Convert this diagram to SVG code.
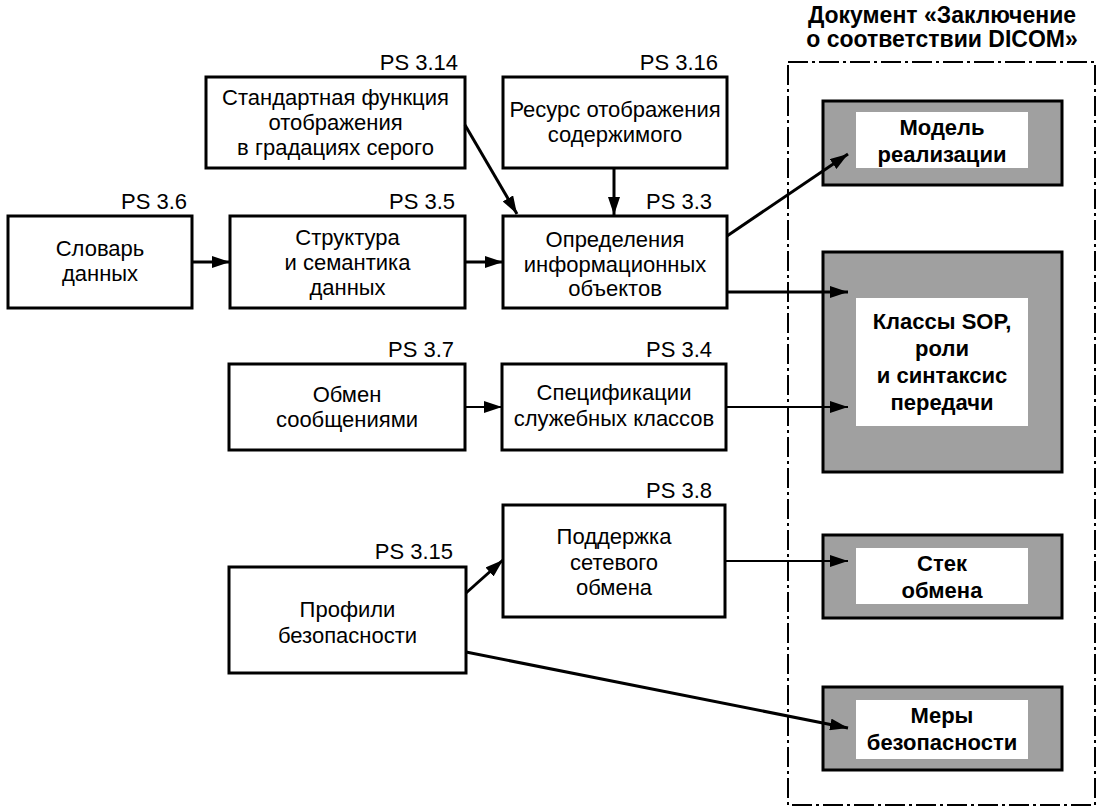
<svg xmlns="http://www.w3.org/2000/svg" width="1102" height="811" viewBox="0 0 1102 811">
<style>
.box{fill:#fff;stroke:#000;stroke-width:3}
.grey{fill:#a0a0a0;stroke:#000;stroke-width:3}
.inner{fill:#fff;stroke:none}
.t{font-family:"Liberation Sans",Arial,sans-serif;font-size:22px;fill:#000;text-anchor:middle}
.b{font-family:"Liberation Sans",Arial,sans-serif;font-size:22px;font-weight:bold;fill:#000;text-anchor:middle}
.h{font-family:"Liberation Sans",Arial,sans-serif;font-size:23px;font-weight:bold;fill:#000;text-anchor:middle}
.ps{font-family:"Liberation Sans",Arial,sans-serif;font-size:22px;fill:#000;text-anchor:end}
.c{fill:none;stroke:#000;stroke-width:3}
.c2{fill:none;stroke:#000;stroke-width:2}
.frame{fill:none;stroke:#000;stroke-width:2;stroke-dasharray:20 4 3 4}
</style>
<defs>
<marker id="ah" markerUnits="userSpaceOnUse" markerWidth="18" markerHeight="12" refX="18" refY="6" orient="auto">
<path d="M0,0 L18,6 L0,12 Z" fill="#000"/>
</marker>
</defs>
<rect width="1102" height="811" fill="#fff"/>

<g id="conformance">
<text class="h" x="942" y="23">Документ «Заключение</text>
<text class="h" x="942" y="47">о соответствии DICOM»</text>
<rect class="frame" x="788" y="62" width="307" height="743"/>
</g>

<g id="ps3_14">
<rect class="box" x="206" y="77" width="259" height="91"/>
<text class="ps" x="458" y="70">PS 3.14</text>
<text class="t" x="335.5" y="105">Стандартная функция</text>
<text class="t" x="335.5" y="130">отображения</text>
<text class="t" x="335.5" y="155">в градациях серого</text>
</g>

<g id="ps3_16">
<rect class="box" x="503" y="77" width="224" height="91"/>
<text class="ps" x="718" y="70">PS 3.16</text>
<text class="t" x="615" y="117">Ресурс отображения</text>
<text class="t" x="615" y="142">содержимого</text>
</g>

<g id="ps3_6">
<rect class="box" x="8" y="216" width="184" height="92"/>
<text class="ps" x="187" y="209">PS 3.6</text>
<text class="t" x="100" y="256">Словарь</text>
<text class="t" x="100" y="281">данных</text>
</g>

<g id="ps3_5">
<rect class="box" x="230" y="216" width="235" height="92"/>
<text class="ps" x="455" y="209">PS 3.5</text>
<text class="t" x="347.5" y="245">Структура</text>
<text class="t" x="347.5" y="270">и семантика</text>
<text class="t" x="347.5" y="295">данных</text>
</g>

<g id="ps3_3">
<rect class="box" x="503" y="216" width="224" height="92"/>
<text class="ps" x="712" y="209">PS 3.3</text>
<text class="t" x="615" y="247">Определения</text>
<text class="t" x="615" y="272">информационных</text>
<text class="t" x="615" y="296">объектов</text>
</g>

<g id="ps3_7">
<rect class="box" x="229" y="364" width="236" height="86"/>
<text class="ps" x="454" y="357">PS 3.7</text>
<text class="t" x="347" y="402">Обмен</text>
<text class="t" x="347" y="427">сообщениями</text>
</g>

<g id="ps3_4">
<rect class="box" x="502" y="364" width="224" height="86"/>
<text class="ps" x="712" y="357">PS 3.4</text>
<text class="t" x="614" y="400">Спецификации</text>
<text class="t" x="614" y="426">служебных классов</text>
</g>

<g id="ps3_8">
<rect class="box" x="503" y="505" width="222" height="112"/>
<text class="ps" x="712" y="498">PS 3.8</text>
<text class="t" x="614" y="544">Поддержка</text>
<text class="t" x="614" y="570">сетевого</text>
<text class="t" x="614" y="595">обмена</text>
</g>

<g id="ps3_15">
<rect class="box" x="229" y="567" width="237" height="106"/>
<text class="ps" x="453" y="559">PS 3.15</text>
<text class="t" x="347.5" y="617">Профили</text>
<text class="t" x="347.5" y="643">безопасности</text>
</g>

<g id="model">
<rect class="grey" x="823" y="101" width="239" height="84"/>
<rect class="inner" x="856" y="112" width="172" height="56"/>
<text class="b" x="942" y="135">Модель</text>
<text class="b" x="942" y="162">реализации</text>
</g>

<g id="sop">
<rect class="grey" x="823" y="252" width="239" height="220"/>
<rect class="inner" x="856" y="298" width="172" height="128"/>
<text class="b" x="942" y="329">Классы SOP,</text>
<text class="b" x="942" y="356">роли</text>
<text class="b" x="942" y="383">и синтаксис</text>
<text class="b" x="942" y="410">передачи</text>
</g>

<g id="stack">
<rect class="grey" x="823" y="535" width="239" height="83"/>
<rect class="inner" x="856" y="548" width="172" height="56"/>
<text class="b" x="942" y="571">Стек</text>
<text class="b" x="942" y="598">обмена</text>
</g>

<g id="security">
<rect class="grey" x="823" y="687" width="239" height="83"/>
<rect class="inner" x="856" y="700" width="172" height="59"/>
<text class="b" x="942" y="723">Меры</text>
<text class="b" x="942" y="750">безопасности</text>
</g>

<g id="connectors">
<line class="c" x1="192" y1="262" x2="230" y2="262" marker-end="url(#ah)"/>
<line class="c" x1="465" y1="262" x2="503" y2="262" marker-end="url(#ah)"/>
<line class="c" x1="465" y1="125" x2="517" y2="214" marker-end="url(#ah)"/>
<line class="c" x1="614" y1="168" x2="614" y2="215" marker-end="url(#ah)"/>
<line class="c" x1="727" y1="236" x2="848" y2="154" marker-end="url(#ah)"/>
<line class="c" x1="727" y1="292" x2="848" y2="292" marker-end="url(#ah)"/>
<line class="c2" x1="465" y1="407" x2="502" y2="407" marker-end="url(#ah)"/>
<line class="c2" x1="726" y1="407" x2="848" y2="407" marker-end="url(#ah)"/>
<line class="c" x1="466" y1="593" x2="503" y2="560" marker-end="url(#ah)"/>
<line class="c2" x1="725" y1="561" x2="848" y2="561" marker-end="url(#ah)"/>
<line class="c" x1="466" y1="652" x2="848" y2="728" marker-end="url(#ah)"/>
</g>
</svg>
